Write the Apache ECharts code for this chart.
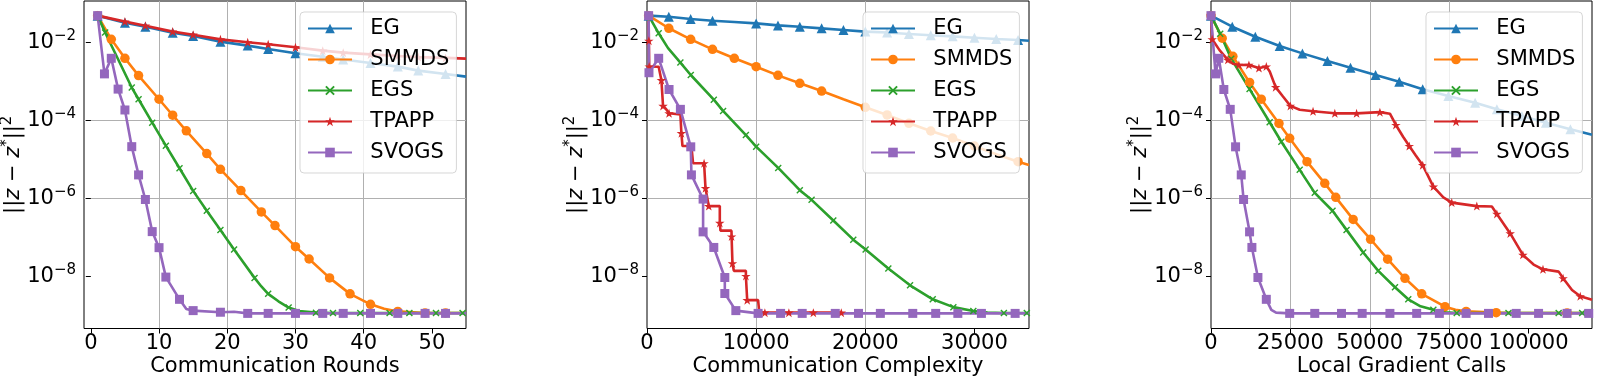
<!DOCTYPE html>
<html>
<head>
<meta charset="utf-8">
<script src="https://cdn.jsdelivr.net/npm/echarts@6/dist/echarts.min.js"></script>
<style>
  html, body { margin: 0; padding: 0; background: #fff; }
  #chart { width: 1597px; height: 379px; }
</style>
</head>
<body>
<div id="chart"></div>
<script>
// ---- tick labels ----
const roundsTicks = [0, 10, 20, 30, 40, 50];
const complexityTicks = [0, 10000, 20000, 30000];
const gradTicks = [0, 25000, 50000, 75000, 100000];
const errTicks = [1e-8, 1e-6, 1e-4, 1e-2];

// ---- panel 1: communication rounds ----
const roundsEgX = [1, 5, 8, 12, 15, 19, 23, 26, 30, 34, 37, 41, 45, 48, 52, 55];
const roundsEgY = [4.83e-2, 3.19e-2, 2.52e-2, 1.77e-2, 1.45e-2, 1.04e-2, 8.22e-3, 6.75e-3, 5.22e-3, 4.27e-3, 3.63e-3, 2.95e-3, 2.38e-3, 1.88e-3, 1.54e-3, 1.32e-3];
const roundsSmX = [1, 3, 5, 7, 10, 12, 14, 17, 19, 22, 25, 27, 30, 32, 35, 38, 41, 43, 45, 49, 52, 55];
const roundsSmY = [4.83e-2, 1.19e-2, 3.89e-3, 1.40e-3, 3.47e-4, 1.35e-4, 5.37e-5, 1.40e-5, 5.55e-6, 1.58e-6, 4.47e-7, 2.00e-7, 5.75e-8, 2.78e-8, 9.12e-9, 3.55e-9, 1.91e-9, 1.48e-9, 1.26e-9, 1.15e-9, 1.15e-9, 1.15e-9];
const roundsEgsX = [1, 2.1, 6, 7, 9, 11, 13, 15, 17, 19, 21, 24, 25, 26, 27.5, 29, 30.5, 33, 35.5, 39.5, 43.8, 46.7, 50.6, 54.5, 55];
const roundsEgsY = [4.83e-2, 1.78e-2, 6.92e-4, 3.47e-4, 8.71e-5, 2.24e-5, 5.89e-6, 1.55e-6, 4.79e-7, 1.55e-7, 4.90e-8, 9.12e-9, 5.50e-9, 3.55e-9, 2.29e-9, 1.58e-9, 1.29e-9, 1.17e-9, 1.15e-9, 1.15e-9, 1.15e-9, 1.15e-9, 1.15e-9, 1.15e-9, 1.15e-9];
const roundsTpX = [1, 5, 8, 12, 15, 19, 23, 26, 30, 34, 37, 41, 45, 48, 52, 55];
const roundsTpY = [4.83e-2, 3.39e-2, 2.67e-2, 1.88e-2, 1.57e-2, 1.19e-2, 1.00e-2, 8.91e-3, 7.45e-3, 6.11e-3, 5.43e-3, 4.90e-3, 4.47e-3, 4.17e-3, 3.98e-3, 3.81e-3];
const roundsSvX = [1, 2, 3, 4, 5, 6, 7, 8, 9, 10, 11, 13, 14, 15, 19, 21, 23, 26, 30, 34, 37, 41, 45, 49, 52, 55];
const roundsSvY = [4.83e-2, 1.55e-3, 3.89e-3, 6.31e-4, 1.84e-4, 2.11e-5, 3.98e-6, 9.33e-7, 1.40e-7, 5.43e-8, 9.55e-9, 2.57e-9, 1.45e-9, 1.32e-9, 1.20e-9, 1.23e-9, 1.12e-9, 1.12e-9, 1.12e-9, 1.12e-9, 1.12e-9, 1.12e-9, 1.12e-9, 1.12e-9, 1.12e-9, 1.12e-9];

// ---- panel 2: communication complexity ----
const cxEgX = [150, 2000, 4000, 6000, 8000, 10000, 12000, 14000, 16000, 18000, 20000, 22000, 24000, 26000, 28000, 30000, 32000, 34000, 35000];
const cxEgY = [4.83e-2, 4.53e-2, 3.94e-2, 3.57e-2, 3.31e-2, 3.05e-2, 2.71e-2, 2.51e-2, 2.28e-2, 2.07e-2, 1.88e-2, 1.78e-2, 1.64e-2, 1.51e-2, 1.42e-2, 1.31e-2, 1.21e-2, 1.15e-2, 1.10e-2];
const cxSmX = [150, 2000, 4000, 6000, 8000, 10000, 12000, 14000, 16000, 18000, 20000, 22000, 24000, 26000, 28000, 30000, 32000, 34000, 35000];
const cxSmY = [4.83e-2, 2.29e-2, 1.19e-2, 6.61e-3, 3.89e-3, 2.37e-3, 1.42e-3, 8.87e-4, 5.62e-4, 3.47e-4, 2.15e-4, 1.37e-4, 8.38e-5, 5.32e-5, 3.52e-5, 2.19e-5, 1.35e-5, 8.71e-6, 7.16e-6];
const cxEgsX = [150, 1070, 1930, 3060, 4010, 6120, 6970, 9060, 10000, 12020, 14000, 15080, 17070, 18900, 20030, 22110, 24100, 26180, 28070, 29900, 31200, 32700, 34800, 35000];
const cxEgsY = [4.83e-2, 1.70e-2, 7.08e-3, 3.02e-3, 1.45e-3, 3.39e-4, 1.74e-4, 4.17e-5, 2.11e-5, 6.03e-6, 1.62e-6, 9.12e-7, 2.69e-7, 8.71e-8, 4.90e-8, 1.58e-8, 5.89e-9, 2.57e-9, 1.62e-9, 1.29e-9, 1.17e-9, 1.15e-9, 1.15e-9, 1.15e-9];
const cxTpX = [150, 170, 200, 1070, 1320, 1470, 1710, 2020, 3060, 3150, 3250, 4070, 4220, 5230, 5360, 5660, 6670, 6670, 6730, 7740, 7750, 7830, 7960, 9060, 9060, 9180, 10180, 10280, 10800, 13000, 15240, 17800];
const cxTpY = [4.83e-2, 1.10e-2, 2.40e-3, 2.37e-3, 1.07e-3, 2.34e-4, 2.00e-4, 1.51e-4, 1.41e-4, 4.68e-5, 2.19e-5, 2.19e-5, 7.94e-6, 7.94e-6, 1.82e-6, 6.31e-7, 6.31e-7, 2.34e-7, 1.48e-7, 1.48e-7, 1.05e-7, 2.14e-8, 1.38e-8, 1.38e-8, 1.02e-8, 2.45e-9, 2.45e-9, 1.23e-9, 1.17e-9, 1.17e-9, 1.17e-9, 1.17e-9];
const cxSvX = [150, 180, 1070, 2020, 3060, 4010, 4070, 5140, 5140, 6120, 7130, 7130, 8140, 10180, 12240, 14220, 17250, 19380, 21380, 24350, 26450, 28480, 30640, 33730, 35000];
const cxSvY = [4.83e-2, 1.66e-3, 3.89e-3, 6.17e-4, 1.91e-4, 2.09e-5, 3.98e-6, 9.55e-7, 1.38e-7, 5.50e-8, 9.33e-9, 3.63e-9, 1.32e-9, 1.12e-9, 1.12e-9, 1.12e-9, 1.12e-9, 1.12e-9, 1.12e-9, 1.12e-9, 1.12e-9, 1.12e-9, 1.12e-9, 1.12e-9, 1.12e-9];

// ---- panel 3: local gradient calls ----
const gcEgX = [0, 6690, 13950, 21630, 28790, 36680, 43940, 51840, 59290, 66680, 74760, 83190, 90040, 97930, 105500, 113200, 120000];
const gcEgY = [4.83e-2, 2.51e-2, 1.39e-2, 8.02e-3, 5.20e-3, 3.31e-3, 2.24e-3, 1.45e-3, 9.77e-4, 6.24e-4, 4.20e-4, 2.82e-4, 1.91e-4, 1.29e-4, 8.71e-5, 5.89e-5, 4.27e-5];
const gcSmX = [0, 3530, 6890, 12150, 15840, 21410, 24780, 30240, 35830, 39300, 44770, 50260, 55630, 61090, 66360, 73710, 77000, 80350, 89820, 96130, 103170, 112140, 120000];
const gcSmY = [4.83e-2, 1.27e-2, 4.37e-3, 9.33e-4, 3.47e-4, 8.32e-5, 3.47e-5, 8.71e-6, 2.42e-6, 1.06e-6, 2.88e-7, 8.91e-8, 2.75e-8, 8.91e-9, 3.55e-9, 1.66e-9, 1.38e-9, 1.26e-9, 1.17e-9, 1.15e-9, 1.15e-9, 1.15e-9, 1.15e-9];
const gcEgsX = [0, 2900, 6370, 12150, 18470, 22160, 27940, 32680, 38270, 42690, 47940, 52680, 57950, 62130, 66000, 70030, 74000, 77400, 93700, 109500, 116900, 120000];
const gcEgsY = [4.83e-2, 1.66e-2, 3.80e-3, 6.31e-4, 8.91e-5, 2.82e-5, 5.37e-6, 1.38e-6, 4.79e-7, 1.55e-7, 4.07e-8, 1.38e-8, 5.25e-9, 2.57e-9, 1.70e-9, 1.38e-9, 1.20e-9, 1.15e-9, 1.15e-9, 1.15e-9, 1.15e-9, 1.15e-9];
const gcTpX = [0, 380, 2680, 5310, 6890, 8780, 11940, 15100, 17420, 18500, 20360, 22670, 25000, 27940, 32140, 39000, 45850, 53200, 56350, 58240, 60500, 62450, 64500, 66680, 70030, 73180, 75830, 83720, 88460, 90040, 94240, 98240, 101600, 104560, 109500, 110900, 113700, 116300, 120000];
const gcTpY = [4.83e-2, 1.20e-2, 6.31e-3, 3.55e-3, 2.82e-3, 2.63e-3, 2.63e-3, 2.19e-3, 2.40e-3, 1.78e-3, 7.08e-4, 4.07e-4, 2.34e-4, 1.86e-4, 1.70e-4, 1.51e-4, 1.51e-4, 1.62e-4, 1.48e-4, 7.59e-5, 3.80e-5, 2.19e-5, 1.26e-5, 7.08e-6, 2.00e-6, 1.05e-6, 7.76e-7, 6.31e-7, 6.17e-7, 3.98e-7, 1.26e-7, 3.55e-8, 2.00e-8, 1.51e-8, 1.32e-8, 8.91e-9, 4.47e-9, 3.09e-9, 2.51e-9];
const gcSvX = [0, 1420, 2460, 4040, 6060, 7740, 9530, 10260, 12150, 12880, 14780, 17420, 19000, 20500, 24780, 32680, 41100, 47610, 56350, 64780, 71920, 80350, 87400, 96130, 103170, 112140, 118970, 120000];
const gcSvY = [4.83e-2, 1.55e-3, 3.89e-3, 6.17e-4, 1.91e-4, 2.09e-5, 3.98e-6, 9.33e-7, 1.38e-7, 5.50e-8, 9.33e-9, 2.57e-9, 1.38e-9, 1.17e-9, 1.12e-9, 1.12e-9, 1.12e-9, 1.12e-9, 1.12e-9, 1.12e-9, 1.12e-9, 1.12e-9, 1.12e-9, 1.12e-9, 1.12e-9, 1.12e-9, 1.12e-9, 1.12e-9];

// marker shapes (matplotlib-like star and thin x)
const STAR = 'path://M10,0 L12.25,6.91 L19.51,6.91 L13.63,11.18 L15.88,18.09 L10,13.82 L4.12,18.09 L6.37,11.18 L0.49,6.91 L7.75,6.91 Z';
const CROSS = 'path://M0,1 L1,0 L7,6 L6,7 Z M6,0 L7,1 L1,7 L0,6 Z';

const methods = [
  { name: 'EG', color: '#1f77b4', symbol: 'triangle', size: 10 },
  { name: 'SMMDS', color: '#ff7f0e', symbol: 'circle', size: 9.5 },
  { name: 'EGS', color: '#2ca02c', symbol: CROSS, size: 7 },
  { name: 'TPAPP', color: '#d62728', symbol: STAR, size: [9.5, 9] },
  { name: 'SVOGS', color: '#9467bd', symbol: 'rect', size: 9 }
];

// per panel: axis range, layout, and for each method [x, y, indices drawn without a marker]
const panels = [
  {
    xName: 'Communication Rounds', xMin: -1, xMax: 55, ticks: roundsTicks, left: 84, width: 382,
    lines: [
      [roundsEgX, roundsEgY, [15]],
      [roundsSmX, roundsSmY, [17, 21]],
      [roundsEgsX, roundsEgsY, [12, 14, 16, 24]],
      [roundsTpX, roundsTpY, [15]],
      [roundsSvX, roundsSvY, [12, 15, 25]]
    ]
  },
  {
    xName: 'Communication Complexity', xMin: 0, xMax: 35000, ticks: complexityTicks, left: 647, width: 382,
    lines: [
      [cxEgX, cxEgY, [4, 18]],
      [cxSmX, cxSmY, [9, 16, 18]],
      [cxEgsX, cxEgsY, [2, 20, 23]],
      [cxTpX, cxTpY, [3, 6, 8, 10, 11, 12, 16, 18, 19, 22, 23, 26, 27]],
      [cxSvX, cxSvY, [24]]
    ]
  },
  {
    xName: 'Local Gradient Calls', xMin: 0, xMax: 120000, ticks: gradTicks, left: 1211, width: 381,
    lines: [
      [gcEgX, gcEgY, [16]],
      [gcSmX, gcSmY, [16, 19, 20, 22]],
      [gcEgsX, gcEgsY, [14, 16, 21]],
      [gcTpX, gcTpY, [2, 4, 9, 11, 13, 18, 20, 22, 25, 28, 32, 34, 36, 38]],
      [gcSvX, gcSvY, [12, 13, 27]]
    ]
  }
];

const FONT = 'DejaVu Sans';
const FS = 21;
const GRID_TOP = 1, GRID_H = 327.5;
const supRich = {
  b: { fontSize: FS, lineHeight: 28, fontFamily: FONT, color: '#000' },
  s: { fontSize: 15, lineHeight: 15, fontFamily: FONT, verticalAlign: 'top', color: '#000' }
};
// zrender-level rich styles for the free-standing y titles (explicit font strings)
const titleRich = {
  b: { font: FS + 'px "DejaVu Sans"', lineHeight: 28, fill: '#000' },
  i: { font: 'italic ' + FS + 'px "DejaVu Sans"', lineHeight: 28, fill: '#000' },
  s: { font: '15px "DejaVu Sans"', lineHeight: 15, verticalAlign: 'top', fill: '#000' }
};
const yTitle = '{b|||}{i|z}{b| \u2212 }{i|z}{s|*}{b|||}{s|2}';

function powLabel(v) {
  const e = Math.log10(v);
  const r = Math.round(e);
  if (Math.abs(e - r) > 1e-6) return '';
  return '{b|10}{s|' + (r < 0 ? '\u2212' : '') + Math.abs(r) + '}';
}

const chart = echarts.init(document.getElementById('chart'), null, { renderer: 'canvas' });

const grids = [], xAxes = [], yAxes = [], legends = [], series = [], titles = [];
panels.forEach((p, i) => {
  grids.push({
    left: p.left, width: p.width, top: GRID_TOP, height: GRID_H,
    show: true, borderColor: '#000', borderWidth: 1, backgroundColor: 'transparent',
    containLabel: false, outerBoundsMode: 'none'
  });
  xAxes.push({
    type: 'value', gridIndex: i, min: p.xMin, max: p.xMax, splitNumber: 5,
    name: p.xName, nameLocation: 'middle', nameGap: 28, nameMoveOverlap: false,
    nameTextStyle: { fontSize: FS, color: '#000', fontFamily: FONT },
    axisLine: { show: false },
    axisTick: { show: true, length: 5, customValues: p.ticks, lineStyle: { color: '#000', width: 1 } },
    axisLabel: {
      fontSize: FS, color: '#000', fontFamily: FONT, margin: 5, customValues: p.ticks,
      formatter: v => (p.ticks.indexOf(v) >= 0 ? String(v) : '')
    },
    splitLine: { show: true, showMinLine: false, showMaxLine: false, lineStyle: { color: '#b0b0b0', width: 1 } }
  });
  yAxes.push({
    type: 'log', logBase: 100, gridIndex: i,
    min: Math.pow(10, -9.338), max: Math.pow(10, -0.941),
    axisLine: { show: false },
    axisTick: { show: true, length: 5, customValues: errTicks, lineStyle: { color: '#000', width: 1 } },
    minorTick: { show: false },
    axisLabel: {
      margin: 8, customValues: errTicks, formatter: powLabel, rich: supRich,
      fontSize: FS, color: '#000', fontFamily: FONT
    },
    splitLine: { show: true, showMinLine: false, showMaxLine: false, lineStyle: { color: '#b0b0b0', width: 1 } }
  });
  // rotated y-axis title, centred beside the axis
  titles.push({
    type: 'text',
    x: p.left - 70, y: GRID_TOP + GRID_H / 2,
    rotation: Math.PI / 2,
    silent: true,
    style: {
      text: yTitle, rich: titleRich,
      font: FS + 'px "DejaVu Sans"', fill: '#000',
      align: 'center', verticalAlign: 'middle'
    }
  });
  legends.push({
    data: methods.map(m => m.name),
    orient: 'vertical',
    left: p.left + p.width - 166, top: 12,
    itemWidth: 44, itemHeight: 12, itemGap: 10,
    padding: [6, 7, 10, 7],
    backgroundColor: 'rgba(255,255,255,0.8)',
    borderColor: 'rgba(204,204,204,0.8)', borderWidth: 1, borderRadius: 4,
    selectedMode: false,
    formatter: name => '  ' + name,
    textStyle: { fontSize: FS, lineHeight: 21, color: '#000', fontFamily: FONT }
  });
  p.lines.forEach((ln, k) => {
    const m = methods[k];
    const xs = ln[0], ys = ln[1], plain = ln[2];
    series.push({
      type: 'line', name: m.name, xAxisIndex: i, yAxisIndex: i,
      data: xs.map((x, j) => plain.indexOf(j) >= 0 ? { value: [x, ys[j]], symbol: 'none' } : [x, ys[j]]),
      symbol: m.symbol, symbolSize: m.size, showSymbol: true, showAllSymbol: true,
      lineStyle: { width: 2.6, color: m.color },
      itemStyle: { color: m.color },
      clip: true, animation: false,
      emphasis: { disabled: true }
    });
  });
});

chart.setOption({
  animation: false,
  backgroundColor: '#fff',
  textStyle: { fontFamily: FONT },
  grid: grids,
  xAxis: xAxes,
  yAxis: yAxes,
  legend: legends,
  graphic: { elements: titles },
  series: series
});
</script>
</body>
</html>
